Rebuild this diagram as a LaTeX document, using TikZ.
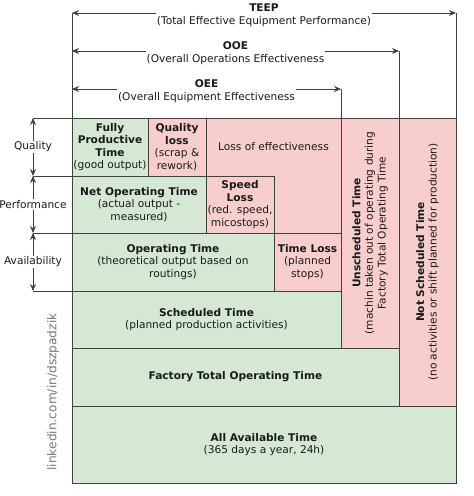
\documentclass[tikz,border=0pt]{standalone}
\usepackage{fontspec}
\setmainfont{DejaVu Sans}
\usetikzlibrary{arrows.meta}
\definecolor{gfill}{HTML}{D5E8D4}
\definecolor{rfill}{HTML}{F8CECC}
\definecolor{edge}{HTML}{404040}
\definecolor{txt}{HTML}{1A1A1A}
\definecolor{ligray}{HTML}{767676}
\begin{document}
\begin{tikzpicture}[x=1pt,y=-1pt,
  font=\fontsize{10.6}{12.6}\selectfont, text=txt,
  box/.style={draw=edge, line width=0.9pt, inner sep=0pt, outer sep=0pt, align=center, anchor=north west},
  gbox/.style={box, fill=gfill},
  rbox/.style={box, fill=rfill},
  ln/.style={draw=edge, line width=0.9pt},
  dim/.style={ln, {Stealth[length=7pt,width=6pt]}-{Stealth[length=7pt,width=6pt]}},
  lab/.style={fill=white, inner sep=1pt, align=center},
  rot/.style={rotate=90, align=center, inner sep=0pt},
  ]
\useasboundingbox (0,0) rectangle (474,496);

% boxes
\node[gbox, minimum width=76pt, minimum height=58pt] (fpt) at (72,118) {\textbf{Fully}\\\textbf{Productive}\\\textbf{Time}\\(good output)};
\node[rbox, minimum width=58pt, minimum height=58pt] (ql) at (148,118) {\textbf{Quality}\\\textbf{loss}\\(scrap \&\\rework)};
\filldraw[ln, fill=rfill] (206,118) -- (341,118) -- (341,233) -- (274,233) -- (274,176) -- (206,176) -- cycle;
\node[align=center] (lossl) at (273.5,147) {Loss of effectiveness};
\node[gbox, minimum width=134pt, minimum height=57pt] (nop) at (72,176) {\textbf{Net Operating Time}\\(actual output -\\measured)};
\node[rbox, minimum width=68pt, minimum height=57pt] (spd) at (206,176) {\textbf{Speed}\\\textbf{Loss}\\(red. speed,\\micostops)};
\node[gbox, minimum width=202pt, minimum height=58pt] (op) at (72,233) {\textbf{Operating Time}\\(theoretical output based on\\routings)};
\node[rbox, minimum width=67pt, minimum height=58pt] (tl) at (274,233) {\textbf{Time Loss}\\(planned\\stops)};
\node[gbox, minimum width=269pt, minimum height=57pt] (sch) at (72,291) {\textbf{Scheduled Time}\\(planned production activities)};
\node[rbox, minimum width=58pt, minimum height=230pt] (uns) at (341,118) {};
\node[rot] (unst) at (uns.center) {\textbf{Unscheduled Time}\\(machin taken out of operating during\\Factory Total Operating Time};
\node[rbox, minimum width=57pt, minimum height=288pt] (nst) at (399,118) {};
\node[rot] (nstt) at (nst.center) {\textbf{Not Scheduled Time}\\(no activities or shift planned for production)};
\node[gbox, minimum width=327pt, minimum height=58pt] (ftot) at (72,348) {\textbf{Factory Total Operating Time}};
\node[gbox, minimum width=384pt, minimum height=77pt] (all) at (72,406) {\textbf{All Available Time}\\(365 days a year, 24h)};

% top dimension lines
\coordinate (tL) at (72,13);
\coordinate (tR) at (456,13);
\coordinate (oL) at (72,51);
\coordinate (oR) at (399,51);
\coordinate (eL) at (72,89);
\coordinate (eR) at (341,89);
\draw[ln] (tL) -- (fpt.north west);
\draw[ln] (tR) -- (nst.north east);
\draw[ln] (oR) -- (uns.north east);
\draw[ln] (eR) -- (uns.north west);
\draw[dim] (tL) -- (tR);
\draw[dim] (oL) -- (oR);
\draw[dim] (eL) -- (eR);
\node[lab] (teep) at (264,15) {\textbf{TEEP}\\(Total Effective Equipment Performance)};
\node[lab] (ooe) at (235.5,53) {\textbf{OOE}\\(Overall Operations Effectiveness};
\node[lab] (oee) at (206.5,91) {\textbf{OEE}\\(Overall Equipment Effectiveness};

% left brackets
\coordinate (qT) at (33,118);
\coordinate (qB) at (33,176);
\coordinate (pB) at (33,233);
\coordinate (aB) at (33,291);
\draw[ln] (qT) -- (fpt.north west);
\draw[ln] (qB) -- (fpt.south west);
\draw[ln] (pB) -- (nop.south west);
\draw[ln] (aB) -- (op.south west);
\draw[dim] (qT) -- (qB);
\draw[dim] (qB) -- (pB);
\draw[dim] (pB) -- (aB);
\node[lab] (qlab) at (33,147) {Quality};
\node[lab] (plab) at (33,204.5) {Performance};
\node[lab] (alab) at (33,262) {Availability};

\node[rotate=90, text=ligray, font=\fontsize{12.2}{14}\selectfont] (li) at (53,392) {linkedin.com/in/dszpadzik};
\end{tikzpicture}
\end{document}
